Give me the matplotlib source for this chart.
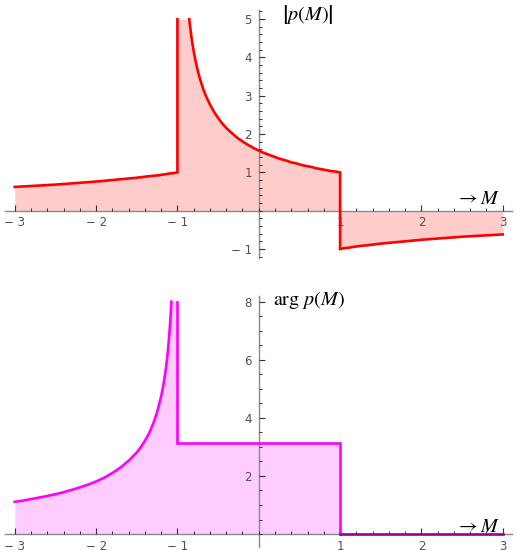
import matplotlib
matplotlib.use("Agg")
import matplotlib.pyplot as plt
from matplotlib.ticker import MultipleLocator

plt.rcParams['mathtext.fontset'] = 'stix'

# ---- data ----
# top panel |p(M)|
m_abs_left = [-3.0, -2.75, -2.5, -2.25, -2.0, -1.75, -1.5, -1.35, -1.25, -1.15, -1.1, -1.05, -1.0]
abs_left = [0.62, 0.65, 0.68, 0.72, 0.76, 0.81, 0.86, 0.90, 0.92, 0.95, 0.97, 0.98, 1.0]
m_abs_mid = [-0.855, -0.85, -0.84, -0.83, -0.82, -0.81, -0.8, -0.78, -0.76, -0.74, -0.72,
             -0.7, -0.68, -0.65, -0.6, -0.55, -0.5, -0.45, -0.4, -0.35, -0.3, -0.25,
             -0.2, -0.15, -0.1, -0.05, 0.0, 0.05, 0.1, 0.15, 0.2, 0.25, 0.3, 0.35, 0.4,
             0.45, 0.5, 0.55, 0.6, 0.65, 0.7, 0.75, 0.8, 0.85, 0.9, 0.95, 1.0]
abs_mid = [5.0, 4.91, 4.74, 4.57, 4.42, 4.29, 4.16, 3.94, 3.75, 3.57, 3.42,
           3.29, 3.16, 3.00, 2.77, 2.58, 2.42, 2.28, 2.16, 2.06, 1.97, 1.88,
           1.81, 1.74, 1.68, 1.62, 1.57, 1.52, 1.48, 1.44, 1.40, 1.36, 1.33, 1.30, 1.26,
           1.24, 1.21, 1.18, 1.16, 1.14, 1.11, 1.09, 1.07, 1.05, 1.03, 1.02, 1.0]
m_abs_right = [1.0, 1.05, 1.1, 1.15, 1.25, 1.35, 1.5, 1.75, 2.0, 2.25, 2.5, 2.75, 3.0]
abs_right = [-1.0, -0.98, -0.97, -0.95, -0.92, -0.90, -0.86, -0.81, -0.76, -0.72, -0.68, -0.65, -0.62]
abs_clip = 5.0

# bottom panel arg p(M)
m_arg_left = [-3.0, -2.9, -2.75, -2.6, -2.5, -2.4, -2.25, -2.1, -2.0, -1.9, -1.8, -1.7,
              -1.6, -1.5, -1.45, -1.4, -1.35, -1.3, -1.25, -1.2, -1.175, -1.15, -1.13,
              -1.12, -1.11, -1.1, -1.09, -1.085, -1.08, -1.077, -1.074]
arg_left = [1.11, 1.15, 1.23, 1.31, 1.37, 1.44, 1.56, 1.70, 1.81, 1.94, 2.10, 2.29,
            2.52, 2.81, 2.99, 3.21, 3.46, 3.78, 4.19, 4.74, 5.09, 5.53, 5.97,
            6.23, 6.52, 6.86, 7.24, 7.46, 7.70, 7.86, 8.0]
m_arg_mid = [-1.0, 1.0]
arg_mid = [3.14, 3.14]
m_arg_right = [1.0, 3.0]
arg_right = [0.0, 0.0]
arg_clip = 8.0

x_ticks = [-3, -2, -1, 1, 2, 3]
x_ticklabels = ['\u2212 3', '\u2212 2', '\u2212 1', '1', '2', '3']
top_y_ticks = [-1, 1, 2, 3, 4, 5]
top_y_ticklabels = ['\u2212 1', '1', '2', '3', '4', '5']
bot_y_ticks = [2, 4, 6, 8]
bot_y_ticklabels = ['2', '4', '6', '8']

RED = '#ff0000'
RED_FILL = '#ffcccc'
MAG = '#ff00ff'
MAG_FILL = '#ffccff'
AX_COL = '#8a8a8a'
TXT_COL = '#505050'

fig = plt.figure(figsize=(5.17, 5.5), dpi=100)
ax1 = fig.add_axes([0.00967, 0.5313, 0.9816, 0.4513])
ax2 = fig.add_axes([0.00967, 0.00582, 0.9816, 0.4562])


def style(ax, yt, ytl, yminor, ylim):
    ax.set_xlim(-3.12, 3.12)
    ax.set_ylim(*ylim)
    for s in ['top', 'right']:
        ax.spines[s].set_visible(False)
    for s in ['left', 'bottom']:
        ax.spines[s].set_position(('data', 0))
        ax.spines[s].set_color(AX_COL)
        ax.spines[s].set_linewidth(1.0)
        ax.spines[s].set_zorder(1)
    ax.set_xticks(x_ticks)
    ax.set_xticklabels(x_ticklabels)
    ax.set_yticks(yt)
    ax.set_yticklabels(ytl)
    ax.xaxis.set_minor_locator(MultipleLocator(0.2))
    ax.yaxis.set_minor_locator(MultipleLocator(yminor))
    ax.tick_params(which='major', direction='in', length=4, width=0.8, color='#333333',
                   labelsize=8.5, labelcolor=TXT_COL)
    ax.tick_params(which='minor', direction='in', length=2.5, width=0.7, color='#333333')
    ax.tick_params(axis='x', which='major', pad=4)
    ax.tick_params(axis='y', which='major', pad=5)
    for lab in ax.get_xticklabels() + ax.get_yticklabels():
        lab.set_fontfamily('DejaVu Sans')
    ax.set_facecolor('none')


style(ax1, top_y_ticks, top_y_ticklabels, 0.2, (-1.23, 5.25))
style(ax2, bot_y_ticks, bot_y_ticklabels, 0.5, (-0.44, 8.2))

# ---- top panel ----
fx = m_abs_left + [m_abs_left[-1]] + m_abs_mid + m_abs_right
fy = abs_left + [abs_clip] + abs_mid + abs_right
ax1.fill_between(fx, fy, 0, color=RED_FILL, lw=0, zorder=0)
ax1.plot(m_abs_left + [m_abs_left[-1]], abs_left + [abs_clip], color=RED, lw=1.9,
         zorder=3, solid_joinstyle='miter')
ax1.plot(m_abs_mid + m_abs_right, abs_mid + abs_right, color=RED, lw=1.9, zorder=3,
         solid_joinstyle='miter')

ax1.text(308, 15, r'$\left|p(M)\right|$', transform=None, fontsize=14.5, ha='center', va='center')
ax1.text(478, 198, r'$\rightarrow M$', transform=None, fontsize=14.5, ha='center', va='center')

# ---- bottom panel ----
gx = m_arg_left + [m_arg_mid[0]] + m_arg_mid + m_arg_right
gy = arg_left + [arg_clip] + arg_mid + arg_right
ax2.fill_between(gx, gy, 0, color=MAG_FILL, lw=0, zorder=0)
ax2.plot(m_arg_left, arg_left, color=MAG, lw=1.9, zorder=3)
ax2.plot([m_arg_mid[0]] + m_arg_mid + [m_arg_right[0]],
         [arg_clip] + arg_mid + [arg_right[0]], color=MAG, lw=1.9, zorder=3,
         solid_joinstyle='miter')
ax2.plot(m_arg_right, arg_right, color='#990099', lw=1.9, zorder=3)

ax2.text(309, 300, r'$\arg\, p(M)$', transform=None, fontsize=14.5, ha='center', va='center')
ax2.text(478, 526, r'$\rightarrow M$', transform=None, fontsize=14.5, ha='center', va='center')

# transform=None uses display pixels from bottom-left; convert from top-left coords
for ax in (ax1, ax2):
    for t in ax.texts:
        x, y = t.get_position()
        t.set_position((x, 550 - y))

fig.savefig('out.png', dpi=100)
